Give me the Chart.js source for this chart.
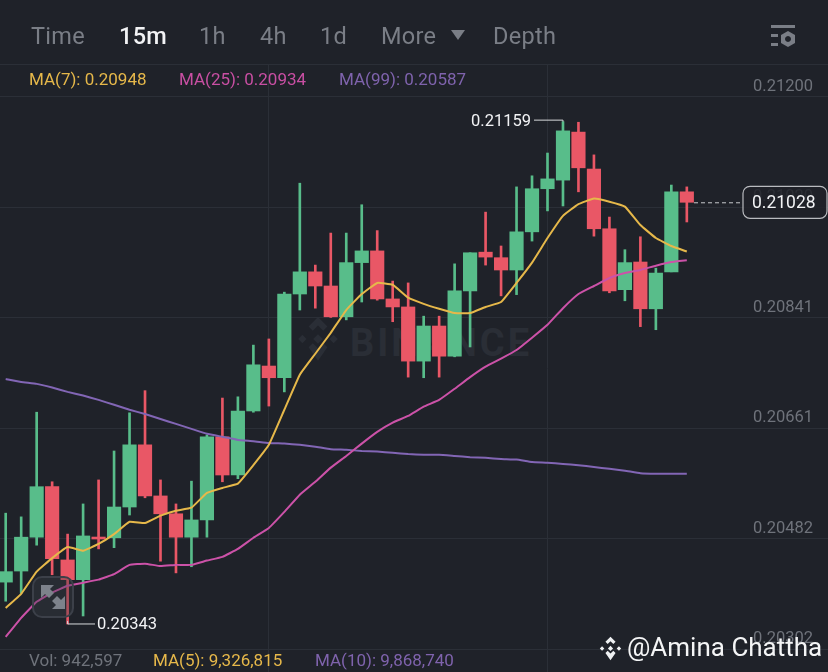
<!DOCTYPE html>
<html><head><meta charset="utf-8">
<script src="https://cdn.jsdelivr.net/npm/chart.js@4"></script>
<style>
html,body{margin:0;padding:0;background:#1f2229;width:828px;height:672px;overflow:hidden;font-family:Roboto,sans-serif}
#wrap{position:relative;width:828px;height:672px;overflow:hidden}
canvas{position:absolute;left:0;top:0;z-index:1}
.t{position:absolute;white-space:nowrap;line-height:1;z-index:2}
.tab{font-size:23.5px;color:#7a7e86;top:25px;letter-spacing:.3px}
.ma{font-size:17px;top:71px}
.bot{font-size:17px;top:652px}
#sep{position:absolute;left:0;top:64px;width:828px;height:1px;background:#2b2f37;z-index:0}
#wm{position:absolute;left:350px;top:321px;font:700 38px "Roboto",sans-serif;letter-spacing:3px;color:#2a2e36;z-index:0}
svg{position:absolute}
</style></head><body>
<div id="wrap">
<div id="sep"></div>
<svg style="left:293px;top:314px;z-index:0" width="50" height="52" viewBox="0 0 24 24" fill="#2a2e36"><path d="M12 1l4.500 4.500-2 2L12 5 9.500 7.500l-2-2zM4.500 9.500l2 2-2 2-2-2zM19.500 9.500l2 2-2 2-2-2zM12 9.200l2.300 2.300L12 13.800 9.700 11.500zM7.500 15.500l2-2 2.500 2.500 2.500-2.500 2 2L12 22z"/></svg>
<div id="wm">BINANCE</div>
<canvas id="c" width="828" height="672"></canvas>
<span class="t tab" style="left:31px">Time</span>
<span class="t tab" style="left:119px;color:#f2f3f5;font-weight:500">15m</span>
<span class="t tab" style="left:199px">1h</span>
<span class="t tab" style="left:260px">4h</span>
<span class="t tab" style="left:320px">1d</span>
<span class="t tab" style="left:381px">More</span>
<svg style="left:451px;top:30px;z-index:2" width="14" height="10"><path d="M0 0H14L7 10Z" fill="#7a7e86"/></svg>
<span class="t tab" style="left:493px">Depth</span>
<svg style="left:771px;top:24px;z-index:2" width="25" height="25" viewBox="0 0 25 25" fill="#7a7e86"><rect x="0" y="1" width="24" height="3"/><rect x="0" y="10" width="7" height="3"/><rect x="0" y="19" width="7" height="3"/><path fill-rule="evenodd" d="M17 7l7 4v8l-7 4-7-4v-8zM17 12a3 3 0 1 0 .01 0z"/></svg>
<span class="t ma" style="left:29px;color:#e6b84a">MA(7): 0.20948</span>
<span class="t ma" style="left:179px;color:#c94fa3">MA(25): 0.20934</span>
<span class="t ma" style="left:339px;color:#7f63ad">MA(99): 0.20587</span>
<span class="t bot" style="left:29px;color:#6f737b">Vol: 942,597</span>
<span class="t bot" style="left:153px;color:#e6b84a">MA(5): 9,326,815</span>
<span class="t bot" style="left:315px;color:#7f63ad">MA(10): 9,868,740</span>
<svg style="left:32px;top:576px;z-index:2" width="42" height="42" viewBox="0 0 42 42"><rect x="1" y="1" width="40" height="40" rx="9" fill="#3a3e47" fill-opacity=".35" stroke="#3c4049" stroke-width="2"/><path d="M9 9h13l-4 4 4 4-5 5-4-4-4 4zM33 33H20l4-4-4-4 5-5 4 4 4-4z" fill="#7d828b"/></svg>
<svg style="left:597px;top:635px;z-index:3" width="27" height="28" viewBox="0 0 24 24" fill="#eef0f2"><path d="M12 1l4.500 4.500-2 2L12 5 9.500 7.500l-2-2zM4.500 9.500l2 2-2 2-2-2zM19.500 9.500l2 2-2 2-2-2zM12 9.200l2.300 2.300L12 13.800 9.700 11.500zM7.500 15.500l2-2 2.500 2.500 2.500-2.500 2 2L12 22z"/></svg>
<span class="t" style="left:627px;top:634px;font-size:26px;color:#f4f5f6;z-index:3">@Amina Chattha</span>
</div>
<script>
const candleIndex=[0,1,2,3,4,5,6,7,8,9,10,11,12,13,14,15,16,17,18,19,20,21,22,23,24,25,26,27,28,29,30,31,32,33,34,35,36,37,38,39,40,41,42,43,44];
const opens=[0.20411,0.20429,0.20484,0.20566,0.20447,0.20415,0.20484,0.20483,0.20533,0.20634,0.20551,0.20522,0.20484,0.20512,0.20647,0.20585,0.20689,0.20762,0.20743,0.20879,0.20915,0.20892,0.20842,0.20930,0.20949,0.20871,0.20858,0.20770,0.20827,0.20778,0.20884,0.20947,0.20938,0.20918,0.20980,0.21050,0.21064,0.21142,0.21082,0.20985,0.20886,0.20931,0.20855,0.20915,0.21045];
const closes=[0.20428,0.20484,0.20566,0.20449,0.20415,0.20486,0.20481,0.20533,0.20634,0.20551,0.20522,0.20484,0.20512,0.20647,0.20585,0.20689,0.20764,0.20743,0.20879,0.20915,0.20892,0.20842,0.20930,0.20949,0.20871,0.20858,0.20770,0.20827,0.20778,0.20884,0.20946,0.20939,0.20918,0.20980,0.21050,0.21066,0.21144,0.21084,0.20985,0.20884,0.20930,0.20855,0.20913,0.21045,0.21028];
const highs=[0.20523,0.20517,0.20687,0.20574,0.20489,0.20538,0.20577,0.20624,0.20686,0.20722,0.20577,0.20538,0.20575,0.20650,0.20710,0.20712,0.20796,0.20806,0.20882,0.21059,0.20926,0.20978,0.20978,0.21024,0.20982,0.20900,0.20897,0.20843,0.20843,0.20928,0.20946,0.21012,0.20957,0.21053,0.21071,0.21108,0.21159,0.21158,0.21105,0.21004,0.20951,0.20972,0.20921,0.21056,0.21053];
const lows=[0.20380,0.20393,0.20471,0.20423,0.20343,0.20356,0.20465,0.20467,0.20520,0.20548,0.20445,0.20426,0.20436,0.20484,0.20574,0.20579,0.20687,0.20697,0.20720,0.20853,0.20856,0.20841,0.20837,0.20866,0.20869,0.20834,0.20744,0.20743,0.20744,0.20777,0.20793,0.20926,0.20876,0.20878,0.20965,0.21014,0.21022,0.21045,0.20973,0.20881,0.20868,0.20826,0.20821,0.20915,0.20996];
const ma7=[0.20369,0.20392,0.20428,0.20450,0.20468,0.20462,0.20473,0.20489,0.20509,0.20507,0.20519,0.20527,0.20532,0.20556,0.20564,0.20571,0.20601,0.20634,0.20691,0.20748,0.20782,0.20816,0.20853,0.20879,0.20897,0.20894,0.20873,0.20863,0.20855,0.20848,0.20848,0.20858,0.20866,0.20897,0.20930,0.20970,0.21006,0.21025,0.21034,0.21029,0.21021,0.20991,0.20970,0.20957,0.20948];
const ma25=[0.20322,0.20353,0.20379,0.20394,0.20405,0.20410,0.20415,0.20424,0.20439,0.20441,0.20437,0.20439,0.20439,0.20446,0.20452,0.20465,0.20483,0.20499,0.20525,0.20553,0.20574,0.20597,0.20616,0.20636,0.20655,0.20670,0.20681,0.20696,0.20707,0.20725,0.20744,0.20761,0.20774,0.20788,0.20808,0.20829,0.20856,0.20879,0.20892,0.20905,0.20913,0.20918,0.20925,0.20931,0.20934];
const ma99=[0.20741,0.20736,0.20733,0.20727,0.20720,0.20714,0.20707,0.20699,0.20691,0.20684,0.20676,0.20668,0.20660,0.20652,0.20647,0.20642,0.20640,0.20637,0.20636,0.20634,0.20631,0.20627,0.20626,0.20624,0.20623,0.20621,0.20619,0.20618,0.20618,0.20616,0.20614,0.20613,0.20611,0.20610,0.20606,0.20605,0.20603,0.20601,0.20598,0.20595,0.20592,0.20588,0.20587,0.20587,0.20587];
const priceTicks=[0.21200,0.21020,0.20841,0.20661,0.20482,0.20302];
const timeGridCandles=[17,35];
const highMark={index:36,value:0.21159,label:'0.21159'};
const lowMark={index:4,value:0.20343,label:'0.20343'};
const lastPrice={value:0.21028,label:'0.21028'};

const UP='#58bd8a',DOWN='#e95766',GRID='#2b2f37',TICK='#6f737b';
const colorOf=c=>closes[c.dataIndex]>=opens[c.dataIndex]?UP:DOWN;
const line=(label,data,color)=>({type:'line',label,order:0,data:candleIndex.map((x,i)=>({x,y:data[i]})),borderColor:color,borderWidth:2,pointRadius:0,tension:0.1,fill:false});

const annotate={id:'annotate',afterDraw(ch){
  const c=ch.ctx,x=ch.scales.x,y=ch.scales.y;
  c.save();
  c.font='16.500px Roboto';c.textBaseline='middle';
  let px=x.getPixelForValue(highMark.index),py=y.getPixelForValue(highMark.value);
  c.strokeStyle='#d8dadd';c.lineWidth=1;c.beginPath();c.moveTo(534,py-1.500);c.lineTo(px,py-1.500);c.lineTo(px,py);c.stroke();
  c.fillStyle='#f2f3f5';c.textAlign='right';c.fillText(highMark.label,531,py);
  px=x.getPixelForValue(lowMark.index);py=y.getPixelForValue(lowMark.value);
  c.beginPath();c.moveTo(px,py-3);c.lineTo(px,py);c.lineTo(95,py);c.stroke();
  c.textAlign='left';c.fillText(lowMark.label,97,py+1);
  py=y.getPixelForValue(lastPrice.value);
  c.setLineDash([4,3]);c.strokeStyle='#c8cacd';c.beginPath();c.moveTo(694,py+.5);c.lineTo(743,py+.5);c.stroke();c.setLineDash([]);
  c.fillStyle='rgba(31,34,41,.86)';c.strokeStyle='#b9bbbf';c.lineWidth=1.200;
  c.beginPath();c.roundRect(743,py-16,84,32,7);c.fill();c.stroke();
  c.fillStyle='#f2f3f5';c.textAlign='left';c.font='17.500px Roboto';c.fillText(lastPrice.label,752,py+1);
  c.restore();
}};

new Chart(document.getElementById('c'),{
  type:'bar',
  data:{datasets:[
    line('MA(7)',ma7,'#e6b84a'),
    line('MA(25)',ma25,'#cc52a8'),
    line('MA(99)',ma99,'#8266b5'),
    {label:'Body',order:1,grouped:false,barThickness:13.5,minBarLength:2,borderWidth:0,borderSkipped:false,backgroundColor:colorOf,data:candleIndex.map(i=>({x:i,y:[opens[i],closes[i]]}))},
    {label:'Wick',order:2,grouped:false,barThickness:2,borderWidth:0,borderSkipped:false,backgroundColor:colorOf,data:candleIndex.map(i=>({x:i,y:[lows[i],highs[i]]}))}
  ]},
  options:{
    responsive:false,animation:false,devicePixelRatio:1,
    layout:{autoPadding:false,padding:{top:65,left:0,right:0,bottom:0}},
    plugins:{legend:{display:false},tooltip:{enabled:false}},
    scales:{
      x:{type:'linear',min:-0.368,max:53.12,offset:false,
         afterBuildTicks:a=>{a.ticks=timeGridCandles.map(value=>({value}))},
         afterFit:a=>{a.height=0},
         grid:{color:GRID,lineWidth:1,offset:false,drawTicks:false},border:{display:false},ticks:{display:false}},
      y:{type:'linear',position:'right',min:0.20265,max:0.21251,
         afterBuildTicks:a=>{a.ticks=priceTicks.map(value=>({value}))},
         afterFit:a=>{a.width=0},
         grid:{color:GRID,lineWidth:1,drawTicks:false},border:{display:false},
         ticks:{mirror:true,padding:-15,labelOffset:-10,color:TICK,font:{family:'Roboto',size:16.5},callback:v=>v.toFixed(5)}}
    }
  },
  plugins:[annotate]
});
</script>
</body></html>
